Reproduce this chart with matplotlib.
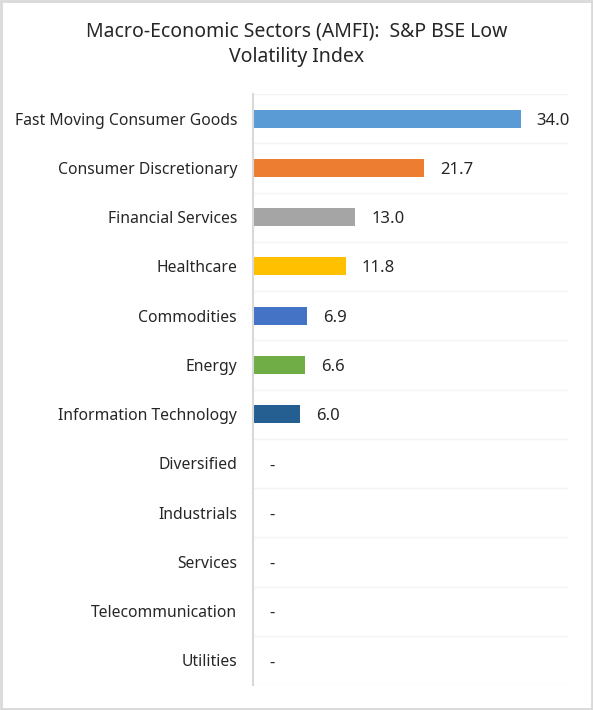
import matplotlib.pyplot as plt
from matplotlib.patches import Rectangle

plt.rcParams['font.family'] = ['Noto Sans', 'DejaVu Sans']

sectors = ['Fast Moving Consumer Goods', 'Consumer Discretionary', 'Financial Services',
           'Healthcare', 'Commodities', 'Energy', 'Information Technology',
           'Diversified', 'Industrials', 'Services', 'Telecommunication', 'Utilities']
weights = [34.0, 21.7, 13.0, 11.8, 6.9, 6.6, 6.0, 0, 0, 0, 0, 0]
colors = ['#5B9BD5', '#ED7D31', '#A5A5A5', '#FFC000', '#4472C4', '#70AD47', '#255E91',
          '#9E480E', '#636363', '#997300', '#264478', '#43682B']

fig = plt.figure(figsize=(5.93, 7.10), dpi=100)
ax = fig.add_axes([0.4266, 0.0352, 0.5312, 0.8324])

y = list(range(len(sectors)))
ax.barh(y, weights, height=0.37, color=colors)

for i, v in enumerate(weights):
    txt = f'{v:.1f}' if v > 0 else '-'
    ax.annotate(txt, (v, i), xytext=(16, -2), textcoords='offset pixels',
                va='center', ha='left', fontsize=12, color='#262626')

ax.set_xlim(0, 40)
ax.set_ylim(len(sectors) - 0.5, -0.5)
ax.set_yticks(y)
ax.set_yticklabels(sectors, fontsize=11.3, color='#262626')
ax.tick_params(axis='y', length=0, pad=11.5)
ax.set_xticks([])

# faint separators between categories
for b in range(len(sectors) + 1):
    ax.axhline(b - 0.5, color='#f4f4f4', lw=1, zorder=0)

for s in ['top', 'right', 'bottom']:
    ax.spines[s].set_visible(False)
ax.spines['left'].set_color('#d9d9d9')
ax.spines['left'].set_linewidth(1.5)

fig.text(0.5, 0.955, 'Macro-Economic Sectors (AMFI):  S&P BSE Low',
         ha='center', va='center', fontsize=14, color='#262626')
fig.text(0.5, 0.920, 'Volatility Index', ha='center', va='center',
         fontsize=14, color='#262626')

fig.patches.append(Rectangle((0.002, 0.002), 0.996, 0.996, transform=fig.transFigure,
                             fill=False, edgecolor='#d9d9d9', lw=2))

fig.savefig('out.png', dpi=100)
